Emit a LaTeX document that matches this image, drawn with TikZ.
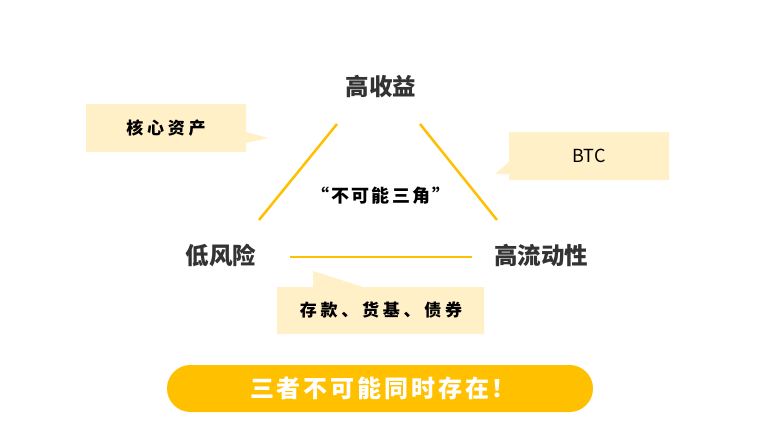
\documentclass[tikz,border=0pt]{standalone}
\usepackage{fontspec}
\newfontfamily\cjk{Noto Sans CJK SC}
\newfontfamily\cjksp{Noto Sans CJK SC}[LetterSpace=12]
\newfontfamily\cjkwide{Noto Sans CJK SC}[LetterSpace=22]
\setmainfont{Liberation Sans}
\definecolor{gold}{HTML}{FFC000}
\definecolor{cream}{HTML}{FFF0C8}
\begin{document}
\begin{tikzpicture}[x=1pt,y=-1pt,
  vertex/.style={font=\cjk\bfseries\fontsize{23.5}{23.5}\selectfont, text=black!80, inner sep=0pt},
  edge/.style={draw=gold, line width=2.5pt},
  bubble/.style={fill=cream, draw=none},
  btext/.style={font=\cjkwide\bfseries\fontsize{17}{17}\selectfont, inner sep=0pt}]
\useasboundingbox[fill=white] (0,0) rectangle (783,447);
% vertices
\node[vertex] (top) at (381,87) {高收益};
\node[vertex] (left) at (221,255) {低风险};
\node[vertex] (right) at (541,255) {高流动性};
\coordinate (tl1) at (337,124); \coordinate (tl2) at (259,220);
\coordinate (tr1) at (420,124); \coordinate (tr2) at (497,220);
\coordinate (b1) at (290,257); \coordinate (b2) at (472,257);
\draw[edge] (tl1) -- (tl2);
\draw[edge] (tr1) -- (tr2);
\draw[edge] (b1) -- (b2);
\node[font=\cjksp\bfseries\fontsize{18}{18}\selectfont, inner sep=0pt] (tri) at (381,196) {“不可能三角”};
% callout 1
\fill[bubble] (86,104) -- (246,104) -- (246,132) -- (268,138) -- (246,143) -- (246,152) -- (86,152) -- cycle;
\node[btext] (c1) at (166,128) {核心资产};
% callout 2
\fill[bubble] (509,132) -- (669,132) -- (669,180) -- (509,180) -- (509,174) -- (495,174) -- (509,162) -- cycle;
\node[font=\cjk\fontsize{18}{18}\selectfont, inner sep=0pt] (c2) at (589,156) {BTC};
% callout 3
\fill[bubble] (277,287) -- (313,287) -- (313,271) -- (363,287) -- (484,287) -- (484,334) -- (277,334) -- cycle;
\node[btext] (c3) at (381,310) {存款、货基、债券};
% bottom pill
\fill[gold, rounded corners=23.5pt] (167,365) rectangle (593,412);
\node[font=\cjksp\bfseries\fontsize{24}{24}\selectfont, text=white, inner sep=0pt] (pill) at (383,388) {三者不可能同时存在！};
\end{tikzpicture}
\end{document}
